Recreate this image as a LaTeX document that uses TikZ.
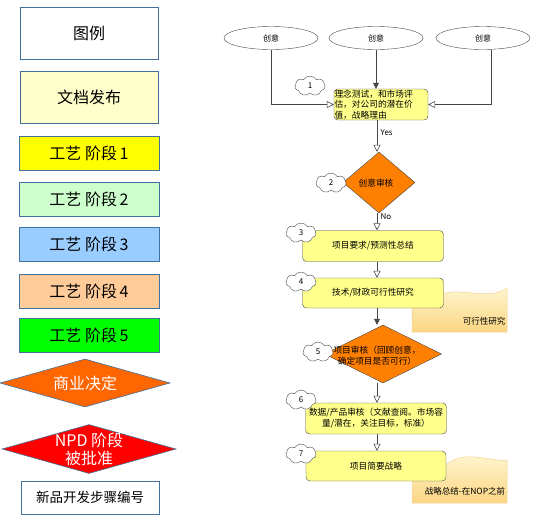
\documentclass[tikz,border=0pt]{standalone}
\usepackage{fontspec}
\setmainfont{Noto Sans CJK SC}
\usetikzlibrary{arrows.meta,positioning,calc,shapes.geometric,shapes.symbols}
\definecolor{legendline}{RGB}{65,113,156}
\definecolor{docpale}{RGB}{255,255,204}
\definecolor{stageone}{RGB}{255,255,0}
\definecolor{stagetwo}{RGB}{204,255,204}
\definecolor{stagethree}{RGB}{153,204,255}
\definecolor{stagefour}{RGB}{255,204,153}
\definecolor{stagefive}{RGB}{0,255,0}
\definecolor{bizorange}{RGB}{255,102,0}
\definecolor{flowyellow}{RGB}{255,255,140}
\definecolor{floworange}{RGB}{255,128,0}
\definecolor{flowline}{RGB}{70,70,70}
\definecolor{notetop}{RGB}{255,244,205}
\definecolor{notebottom}{RGB}{250,214,130}
\definecolor{noteline}{RGB}{240,210,150}
\tikzset{
  legend/.style={draw=legendline, line width=0.8pt, minimum width=138pt, minimum height=34pt, inner sep=0pt, font=\fontsize{16}{19}\selectfont},
  legenddia/.style={diamond, draw=legendline, line width=0.6pt, inner sep=0pt},
  idea/.style={ellipse, draw=flowline, fill=white, minimum width=94pt, minimum height=23pt, inner sep=0pt, font=\fontsize{8}{9}\selectfont},
  task/.style={draw=flowline, fill=flowyellow, rounded corners=4pt, minimum width=141pt, minimum height=31pt, inner sep=1pt, align=center, font=\fontsize{8.7}{11}\selectfont},
  gate/.style={diamond, draw=flowline, fill=floworange, inner sep=0pt},
  stepno/.style={cloud, cloud puffs=7, cloud puff arc=120, aspect=1.5, draw=flowline, fill=white, minimum width=30pt, minimum height=20pt, inner sep=0pt, font=\fontsize{8}{9}\selectfont},
  flowtext/.style={font=\fontsize{8.7}{11}\selectfont, align=center, inner sep=0pt},
  line/.style={-{Triangle[open,length=7pt,width=7pt]}, draw=flowline, line width=0.6pt},
  solidline/.style={-{Triangle[length=6pt,width=6pt]}, draw=flowline, line width=0.6pt}
}

\begin{document}
\begin{tikzpicture}[x=1pt, y=-1pt]
  \useasboundingbox (0,0) rectangle (536,520);

  % legend
  \node[legend, fill=white, minimum height=52pt] (lgkey) at (89,33) {图例};
  \node[legend, fill=docpale, minimum height=52pt, below=12pt of lgkey] (lgdoc) {文档发布};
  \node[legend, fill=stageone, minimum width=140pt, below=12pt of lgdoc] (lgone) {工艺 阶段\,1};
  \node[legend, fill=stagetwo, minimum width=140pt, below=11pt of lgone] (lgtwo) {工艺 阶段\,2};
  \node[legend, fill=stagethree, minimum width=140pt, below=10pt of lgtwo] (lgthree) {工艺 阶段\,3};
  \node[legend, fill=stagefour, minimum width=140pt, below=12pt of lgthree] (lgfour) {工艺 阶段\,4};
  \node[legend, fill=stagefive, minimum width=140pt, below=10pt of lgfour] (lgfive) {工艺 阶段\,5};
  \node[legenddia, fill=bizorange, minimum width=170pt, minimum height=48pt] (lgbiz) at (85,383) {};
  \node[font=\fontsize{16}{19}\selectfont, text=white] (lgbiztext) at (lgbiz) {商业决定};
  \node[legenddia, fill=red, minimum width=174pt, minimum height=49pt] (lgnpd) at (89,449) {};
  \node[font=\fontsize{16}{18}\selectfont, text=white, align=center] (lgnpdtext) at (lgnpd) {NPD 阶段\\被批准};
  \node[legend, fill=white, minimum height=33pt, font=\fontsize{13.5}{16}\selectfont] (lgstep) at (90,497.5) {新品开发步骤编号};

  % notes behind the tasks
  \shade[top color=notetop, bottom color=notebottom, draw=noteline, line width=0.5pt]
    (412,302) .. controls (430,300) and (440,291) .. (458,292)
    .. controls (478,293) and (495,297) .. (507,288) -- (507,332) -- (412,332) -- cycle;
  \node[font=\fontsize{8.5}{10}\selectfont] (notea) at (484,321) {可行性研究};
  \shade[top color=notetop, bottom color=notebottom, draw=noteline, line width=0.5pt]
    (412,478) .. controls (440,476) and (446,458) .. (466,457)
    .. controls (484,456) and (498,462) .. (507,460) -- (507,503) -- (412,503) -- cycle;
  \node[font=\fontsize{8.5}{10}\selectfont] (noteb) at (465,491) {战略总结-在NOP之前};

  % flow
  \node[idea] (ideaa) at (271,38) {创意};
  \node[idea] (ideab) at (376,38) {创意};
  \node[idea] (ideac) at (483,38) {创意};
  \node[task, minimum width=94pt, text width=93pt, inner sep=0.5pt, align=left, font=\fontsize{8.7}{10.3}\selectfont] (concept) at (381,104.5)
    {理念测试，和市场评\\估，对公司的潜在价\\值，战略理由};
  \node[gate, minimum width=72pt, minimum height=61pt] (ideagate) at (379,182.5) {};
  \node[flowtext] (ideagatetext) at (376,183) {创意审核};
  \node[task] (reqs) at (373,246) {项目要求/预测性总结};
  \node[task, minimum height=30pt] (feasible) at (373,293) {技术/财政可行性研究};
  \node[gate, minimum width=117pt, minimum height=58pt] (projgate) at (383,354) {};
  \node[flowtext] (projgatetext) at (377,356) {项目审核（回顾创意，\\确定项目是否可行）};
  \node[task] (review) at (376,418.5) {数据/产品审核（文献查阅。市场容\\量/潜在，关注目标，标准）};
  \node[task, minimum width=140pt, minimum height=30pt] (brief) at (376,466) {项目简要战略};

  \coordinate (spine) at (377,0);

  % step numbers
  \node[stepno] (numa) at (310,86) {1};
  \node[stepno] (numb) at (331,183) {2};
  \node[stepno] (numc) at (301,233) {3};
  \node[stepno] (numd) at (301,282) {4};
  \node[stepno] (nume) at (318,352) {5};
  \node[stepno] (numf) at (301,400) {6};
  \node[stepno] (numg) at (301,454) {7};

  \draw[line] (ideaa.south) |- (concept.west);
  \draw[line] ([xshift=8pt]ideac.south) |- (concept.east);
  \draw[solidline] (ideab.south) -- (ideab |- concept.north);
  \draw[line] (spine |- concept.south) -- node[right, font=\fontsize{8}{9}\selectfont, pos=0.4] {Yes} (spine |- ideagate.north);
  \draw[line] (spine |- ideagate.south) -- node[right, font=\fontsize{8}{9}\selectfont, pos=0.2] {No} (spine |- reqs.north);
  \draw[line] (spine |- reqs.south) -- (spine |- feasible.north);
  \draw[solidline] (spine |- feasible.south) -- (spine |- projgate.north);
  \draw[line] (spine |- projgate.south) -- (spine |- review.north);
  \draw[line] (spine |- review.south) -- (spine |- brief.north);
\end{tikzpicture}
\end{document}
